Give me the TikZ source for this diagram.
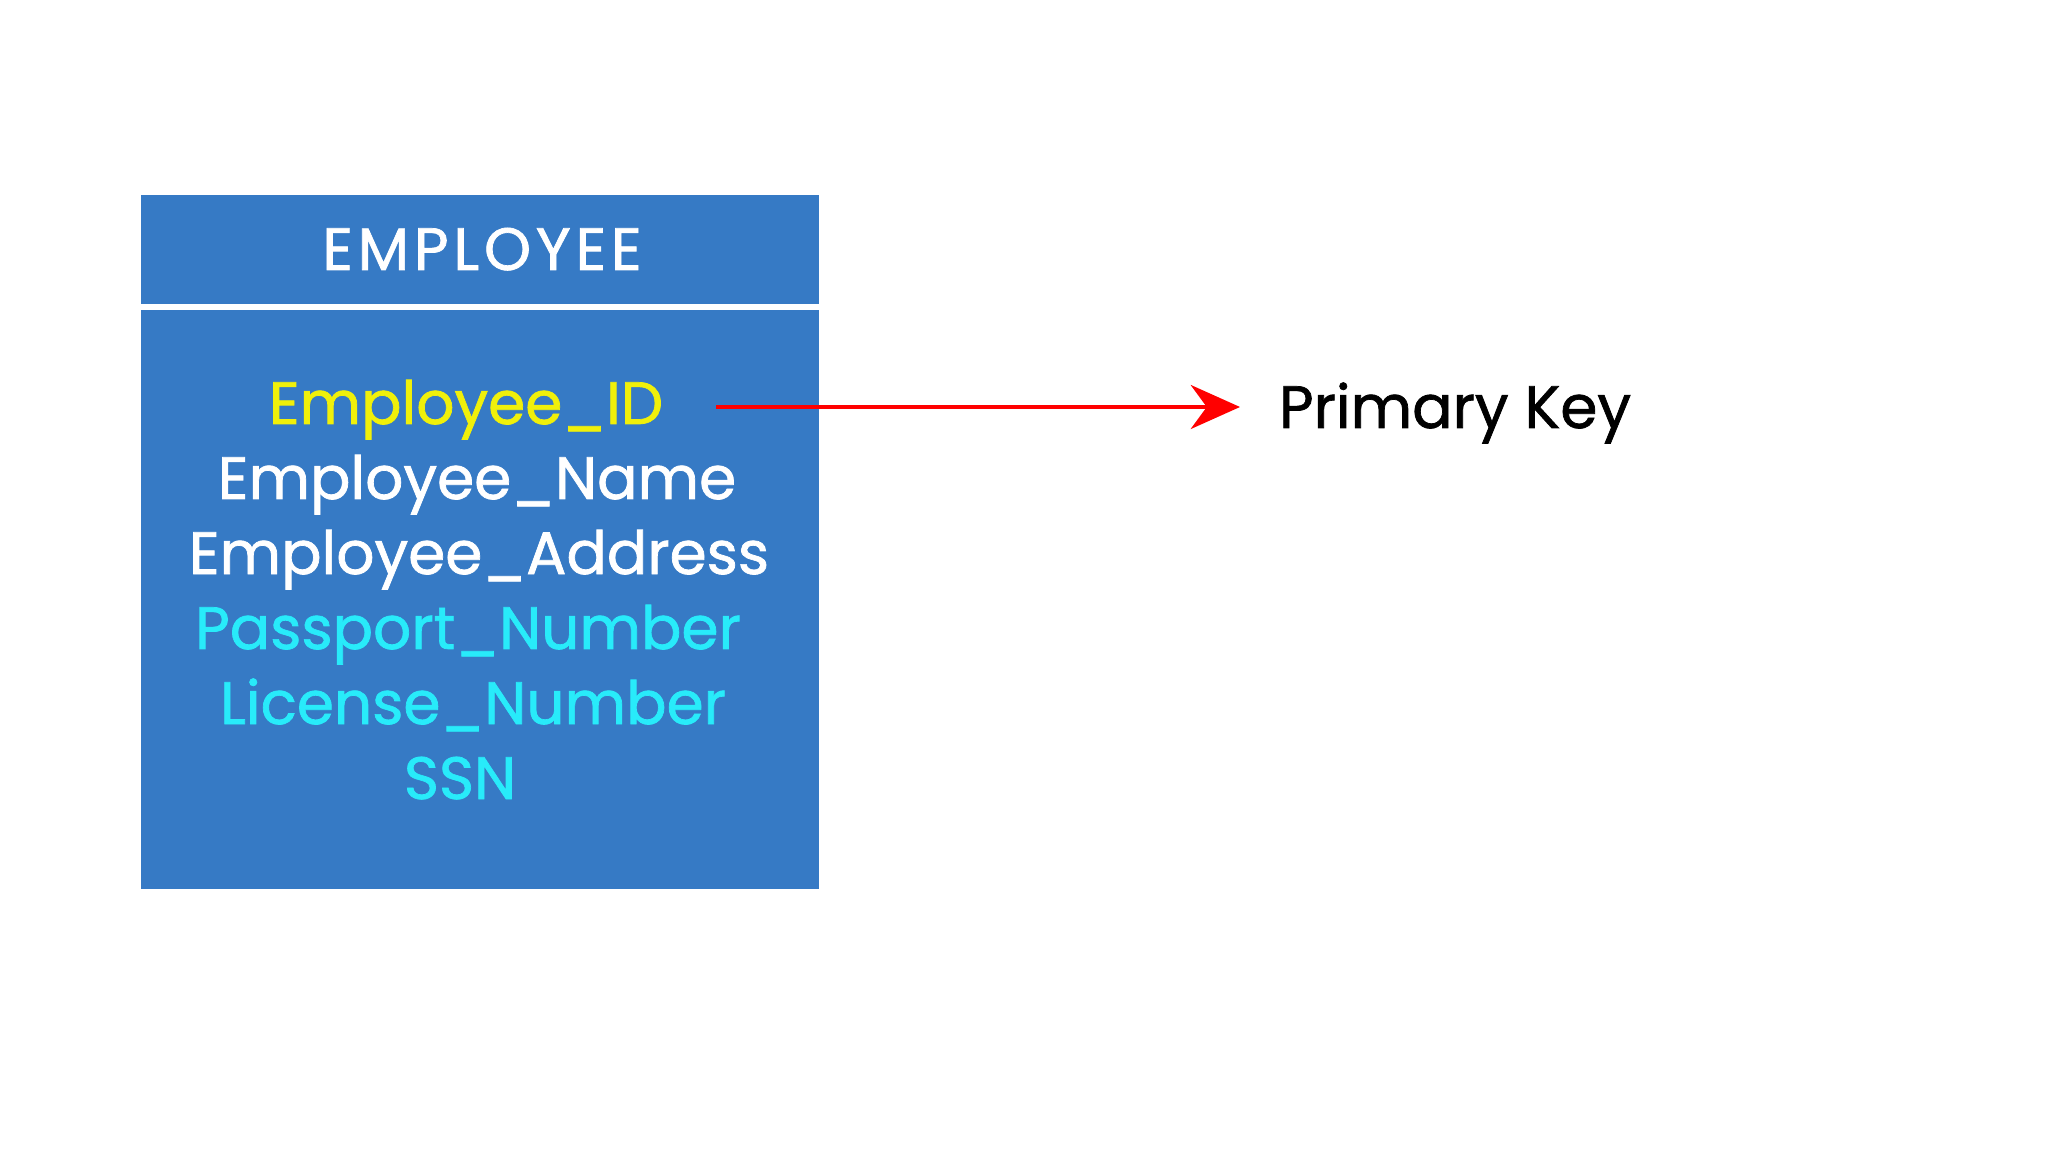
\documentclass[tikz,border=0pt]{standalone}
\usepackage{fontspec}
\setmainfont[FakeBold=1.2]{Poppins}
\newfontfamily\headfont[LetterSpace=8,FakeBold=1.2]{Poppins}
\usetikzlibrary{arrows.meta}
\definecolor{tblblue}{RGB}{54,122,197}
\definecolor{pkyellow}{RGB}{240,240,10}
\definecolor{altcyan}{RGB}{40,235,250}
\begin{document}
\begin{tikzpicture}[x=0.01cm,y=-0.01cm]
		\tikzstyle{every node}=[inner sep=0pt,outer sep=0pt,anchor=base,font=\fontsize{17}{20}\selectfont];
		\tikzstyle{attr}=[text=white];
		\tikzstyle{alt}=[text=altcyan];
		\useasboundingbox (0,0) rectangle (2048,1152);
		% entity box
		\fill[tblblue] (141,195) rectangle (819,304);
		\fill[tblblue] (141,310) rectangle (819,889);
		\node[attr,font=\headfont\fontsize{17}{20}\selectfont] (head) at (482,270) {EMPLOYEE};
		% attributes
		\node[text=pkyellow] (id) at (466,424) {Employee\_ID};
		\node[attr] (name) at (477,499) {Employee\_Name};
		\node[attr] (addr) at (479,574) {Employee\_Address};
		\node[alt] (pass) at (468,649) {Passport\_Number};
		\node[alt] (lic) at (473,724) {License\_Number};
		\node[alt] (ssn) at (460,799) {SSN};
		% key label
		\node[anchor=base west] (pk) at (1279,428) {Primary Key};
		\coordinate (pkfrom) at (716,407);
		\coordinate (pkto) at (1240,407);
		\draw[red,line width=1.2pt,-{Stealth[length=14pt,width=12.5pt]}] (pkfrom) -- (pkto);
\end{tikzpicture}
\end{document}
